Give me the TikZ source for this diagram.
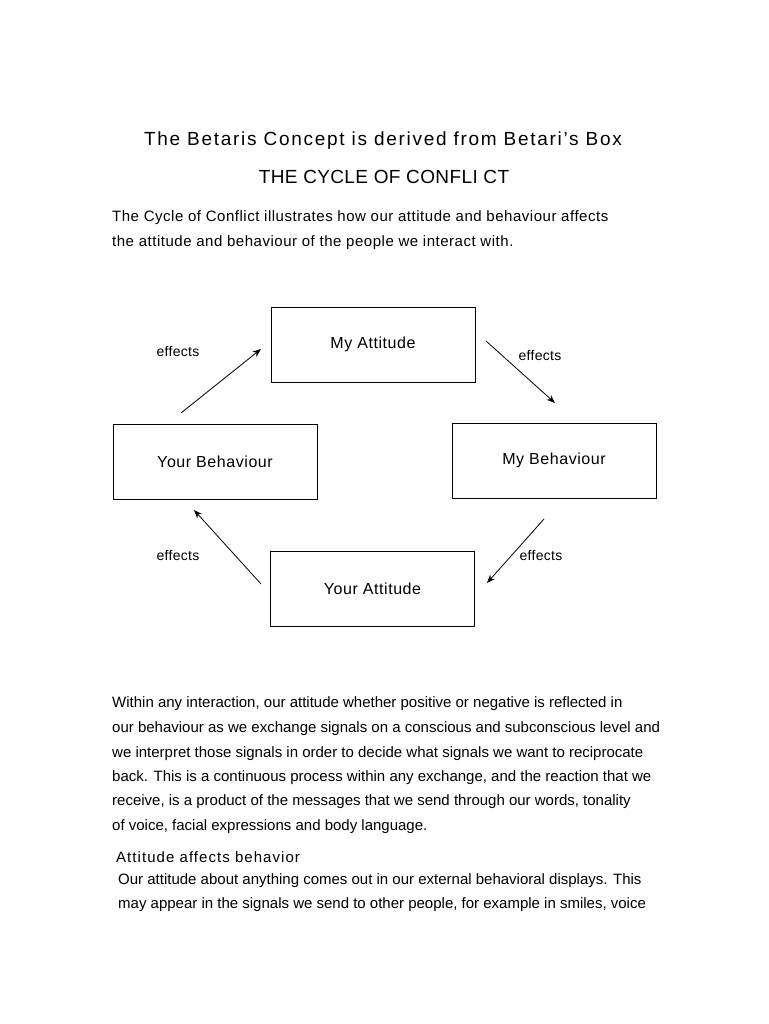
\documentclass[tikz,border=0pt]{standalone}
\usepackage{fontspec}
\setmainfont{Liberation Sans}
\usetikzlibrary{arrows.meta}
\begin{document}
\begin{tikzpicture}[x=1pt,y=-1pt,
  boxnode/.style={draw=black, line width=0.9pt, minimum width=204pt, minimum height=75pt, inner sep=0pt, font=\fontsize{16}{18}\selectfont\addfontfeature{LetterSpace=3.5}},
  lbl/.style={font=\fontsize{14}{16}\selectfont\addfontfeature{LetterSpace=2}, inner sep=0pt},
  conn/.style={line width=0.8pt, -{Stealth[length=8.5pt,width=6.5pt]}},
  bodyline/.style={anchor=base west, inner sep=0pt, font=\fontsize{15}{18}\selectfont},
]
\useasboundingbox[fill=white] (0,0) rectangle (768,1024);

\node[anchor=base, inner sep=0pt, font=\fontsize{19}{22}\selectfont\addfontfeature{LetterSpace=9}] (title) at (383,146) {The Betaris Concept is derived from Betari’s Box};
\node[anchor=base, inner sep=0pt, font=\fontsize{19}{22}\selectfont\addfontfeature{LetterSpace=2}] (sub) at (384,184) {THE CYCLE OF CONFLI CT};

\node[bodyline, font=\fontsize{15}{18}\selectfont\addfontfeature{LetterSpace=3.5}] (p1) at (112,222) {The Cycle of Conflict illustrates how our attitude and behaviour affects};
\node[bodyline, font=\fontsize{15}{18}\selectfont\addfontfeature{LetterSpace=3.5}] (p2) at (112,246) {the attitude and behaviour of the people we interact with.};

\node[boxnode] (ma) at (373,344.5) {My Attitude};
\node[boxnode] (yb) at (215,462) {Your Behaviour};
\node[boxnode] (mb) at (554,461) {\raisebox{4pt}{My Behaviour}};
\node[boxnode] (ya) at (372.5,589) {Your Attitude};

\coordinate (a1s) at (181,413); \coordinate (a1e) at (261,349);
\coordinate (a2s) at (486,341); \coordinate (a2e) at (555,403);
\coordinate (a3s) at (544,519); \coordinate (a3e) at (487,583);
\coordinate (a4s) at (261,584); \coordinate (a4e) at (194,510);
\draw[conn] (a1s) -- (a1e);
\draw[conn] (a2s) -- (a2e);
\draw[conn] (a3s) -- (a3e);
\draw[conn] (a4s) -- (a4e);

\node[lbl] (l1) at (178,352) {effects};
\node[lbl] (l2) at (540,356) {effects};
\node[lbl] (l3) at (178,555) {effects};
\node[lbl] (l4) at (541,555) {effects};

\node[bodyline] (b1) at (112,707) {Within any interaction, our attitude whether positive or negative is reflected in};
\node[bodyline] (b2) at (112,732) {our behaviour as we exchange signals on a conscious and subconscious level and};
\node[bodyline] (b3) at (112,757) {we interpret those signals in order to decide what signals we want to reciprocate};
\node[bodyline] (b4) at (112,781) {back. This is a continuous process within any exchange, and the reaction that we};
\node[bodyline] (b5) at (112,805) {receive, is a product of the messages that we send through our words, tonality};
\node[bodyline] (b6) at (112,830) {of voice, facial expressions and body language.};

\node[bodyline, font=\fontsize{15}{18}\selectfont\addfontfeature{LetterSpace=7}] (h1) at (116,862) {Attitude affects behavior};
\node[bodyline] (c1) at (118,884) {Our attitude about anything comes out in our external behavioral displays. This};
\node[bodyline] (c2) at (118,908) {may appear in the signals we send to other people, for example in smiles, voice};
\end{tikzpicture}
\end{document}
